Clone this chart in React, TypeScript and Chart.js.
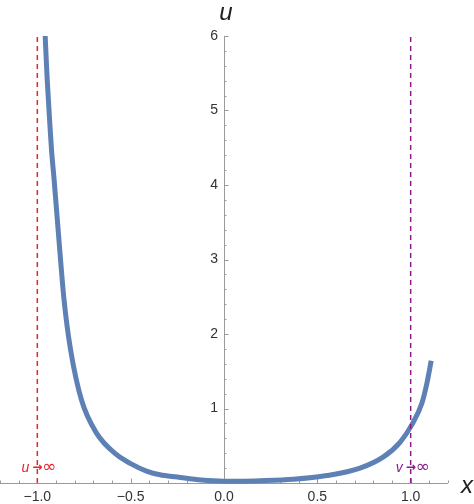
import { useEffect, useRef } from 'react'
import { Chart, registerables, Plugin } from 'chart.js'

Chart.register(...registerables)

// curve u(x)
const curveX = [-0.958, -0.947, -0.931, -0.924, -0.910, -0.880, -0.857, -0.822, -0.763, -0.683, -0.575, -0.5, -0.415, -0.343, -0.25, -0.12, 0.0, 0.1, 0.193, 0.372, 0.551, 0.729, 0.854, 0.944, 1.006, 1.060, 1.087, 1.110]
const curveU = [6.0, 5.41, 4.74, 4.47, 4.07, 3.13, 2.46, 1.79, 1.11, 0.67, 0.38, 0.26, 0.16, 0.11, 0.08, 0.04, 0.025, 0.025, 0.03, 0.05, 0.10, 0.20, 0.35, 0.55, 0.78, 1.07, 1.34, 1.64]

// asymptotes
const asymptoteX = [-1, 1]
const asymptoteLetters = ['u', 'v']
const asymptoteColors = ['#e8232d', '#8b1a8b']

const xTicks = [-1.0, -0.5, 0.0, 0.5, 1.0]
const xTickLabels = ['\u22121.0', '\u22120.5', '0.0', '0.5', '1.0']
const yTicks = [1, 2, 3, 4, 5, 6]
const yTickLabels = ['1', '2', '3', '4', '5', '6']

const FONT = '"Liberation Sans", Arial, sans-serif'
const SYMBOL_FONT = '"DejaVu Sans", sans-serif'

const axesPlugin: Plugin = {
  id: 'mathAxes',
  beforeDatasetsDraw(chart) {
    const { ctx, chartArea } = chart
    const xs = chart.scales.x
    const ys = chart.scales.y
    const x0 = xs.getPixelForValue(0)
    const y0 = ys.getPixelForValue(0)
    ctx.save()
    ctx.strokeStyle = '#9a9a9a'
    ctx.lineWidth = 1
    ctx.beginPath()
    ctx.moveTo(chartArea.left, y0 + 0.5)
    ctx.lineTo(chartArea.right, y0 + 0.5)
    ctx.moveTo(x0 + 0.5, chartArea.top)
    ctx.lineTo(x0 + 0.5, y0)
    // x ticks every 0.1, inward (up)
    for (let i = -12; i <= 12; i++) {
      const px = Math.round(xs.getPixelForValue(i / 10)) + 0.5
      const len = i % 5 === 0 ? 4.5 : 2.5
      ctx.moveTo(px, y0)
      ctx.lineTo(px, y0 - len)
    }
    // y ticks every 0.2, to the right
    for (let i = 1; i <= 30; i++) {
      const py = Math.round(ys.getPixelForValue(i / 5)) + 0.5
      const len = i % 5 === 0 ? 4.5 : 2.5
      ctx.moveTo(x0, py)
      ctx.lineTo(x0 + len, py)
    }
    ctx.stroke()

    ctx.fillStyle = '#333'
    ctx.font = `14px ${FONT}`
    ctx.textAlign = 'center'
    ctx.textBaseline = 'top'
    xTicks.forEach((v, i) => {
      ctx.fillText(xTickLabels[i], xs.getPixelForValue(v), y0 + 7)
    })
    ctx.textAlign = 'right'
    ctx.textBaseline = 'middle'
    yTicks.forEach((v, i) => {
      ctx.fillText(yTickLabels[i], x0 - 6, ys.getPixelForValue(v))
    })

    ctx.fillStyle = '#222'
    ctx.font = `italic 24px ${FONT}`
    ctx.textAlign = 'center'
    ctx.textBaseline = 'middle'
    ctx.fillText('u', x0 + 2, 13)
    ctx.fillText('x', 467, y0 + 3)
    ctx.restore()
  },
  afterDatasetsDraw(chart) {
    const { ctx } = chart
    const xs = chart.scales.x
    const ys = chart.scales.y
    const py = ys.getPixelForValue(0) - 15
    ctx.save()
    ctx.textBaseline = 'middle'
    asymptoteX.forEach((v, i) => {
      const px = xs.getPixelForValue(v)
      ctx.fillStyle = asymptoteColors[i]
      ctx.font = `italic 14px ${FONT}`
      ctx.textAlign = 'right'
      ctx.fillText(asymptoteLetters[i], px - 8, py)
      ctx.font = `bold 12px ${SYMBOL_FONT}`
      ctx.textAlign = 'center'
      ctx.fillText('\u2192', px, py)
      ctx.font = `17px ${SYMBOL_FONT}`
      ctx.textAlign = 'left'
      ctx.fillText('\u221e', px + 5, py)
    })
    ctx.restore()
  },
}

export default function App() {
  const canvasRef = useRef<HTMLCanvasElement>(null)
  const chartRef = useRef<Chart | null>(null)

  useEffect(() => {
    document.body.style.margin = '0'
    if (!canvasRef.current) return
    if (chartRef.current) chartRef.current.destroy()

    chartRef.current = new Chart(canvasRef.current, {
      type: 'line',
      data: {
        datasets: [
          ...asymptoteX.map((v, i) => ({
            data: [{ x: v, y: 0 }, { x: v, y: 6 }],
            borderColor: asymptoteColors[i],
            borderWidth: 1.5,
            borderDash: [5, 4],
            pointRadius: 0,
          })),
          {
            data: curveX.map((x, i) => ({ x, y: curveU[i] })),
            borderColor: '#5e81b5',
            borderWidth: 5,
            pointRadius: 0,
            cubicInterpolationMode: 'monotone' as const,
            clip: false as any,
          },
        ],
      },
      options: {
        responsive: false,
        animation: false,
        devicePixelRatio: 1,
        layout: { padding: { left: 0, right: 26, top: 36, bottom: 21 } },
        plugins: { legend: { display: false }, tooltip: { enabled: false } },
        scales: {
          x: { type: 'linear', min: -1.2, max: 1.2, display: false },
          y: { type: 'linear', min: 0, max: 6, display: false },
        },
      },
      plugins: [axesPlugin],
    })

    return () => {
      if (chartRef.current) {
        chartRef.current.destroy()
        chartRef.current = null
      }
    }
  }, [])

  return (
    <div style={{ width: 474, height: 504, background: '#fff' }}>
      <canvas ref={canvasRef} width={474} height={504}></canvas>
    </div>
  )
}
